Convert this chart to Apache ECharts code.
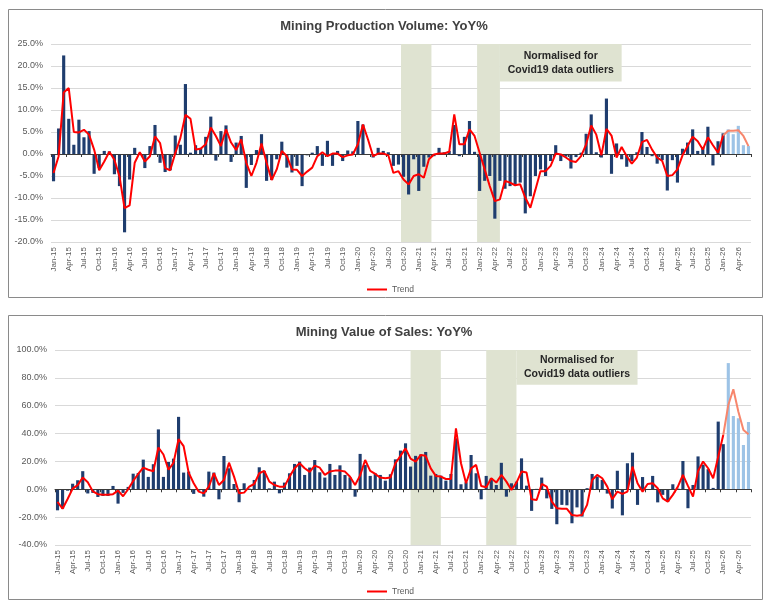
<!DOCTYPE html>
<html>
<head>
<meta charset="utf-8">
<title>Mining YoY%</title>
<script src="https://cdn.jsdelivr.net/npm/echarts@6.0.0/dist/echarts.min.js"></script>
<style>
  html, body { margin: 0; padding: 0; background: #fff; }
  #chart { width: 768px; height: 604px; }
</style>
</head>
<body>
<div id="chart"></div>
<script>
// month labels Jan-15 .. Jun-26
const MONTHS = ['Jan', 'Feb', 'Mar', 'Apr', 'May', 'Jun', 'Jul', 'Aug', 'Sep', 'Oct', 'Nov', 'Dec']
const YEARS = ['15', '16', '17', '18', '19', '20', '21', '22', '23', '24', '25', '26']
const categories = []
YEARS.forEach(y => MONTHS.forEach(m => categories.push(m + '-' + y)))
categories.length = 138

const FORECAST_FROM = 'Feb-26' // lighter bars from here
const TREND_SPLIT = 'Jan-26' // trend turns salmon from here

// Mining Production Volume: YoY%
const volBars = [
  -6.2, 5.8, 22.4, 8.0, 2.1, 7.8, 3.8, 5.2, -4.5, -3.2, 0.7, 0.6,
  -4.6, -7.3, -17.8, -5.8, 1.4, 0.2, -3.2, 1.8, 6.6, -2.0, -4.1, -3.7,
  4.2, 2.1, 15.9, 0.3, 2.0, 1.4, 3.9, 8.5, -1.5, 5.2, 6.5, -1.8,
  2.6, 4.1, -7.7, -2.5, 0.9, 4.5, -6.1, -5.9, -1.2, 2.8, -3.1, -4.2,
  -2.7, -7.3, -0.3, 0.3, 1.8, -2.7, 3.0, -2.7, 0.7, -1.6, 0.8, 0.6,
  7.5, 6.7, -0.2, -0.8, 1.4, 0.7, 0.4, -2.7, -2.4, -5.2, -9.2, -1.2,
  -8.4, -2.9, -0.8, -0.5, 1.4, 0.4, 0.7, 6.6, -0.5, 3.9, 7.5, 0.5,
  -8.4, -6.1, -5.0, -14.7, -6.1, -7.9, -7.3, -7.1, -6.5, -13.5, -9.6, -5.0,
  -3.5, -5.0, -1.6, 2.0, -1.6, -0.6, -3.3, -0.7, 0.3, 4.6, 9.0, 0.4,
  -0.8, 12.6, -4.5, 2.4, -1.2, -2.9, -1.6, 0.4, 5.0, 1.6, -0.5, -2.2,
  -1.4, -8.3, -1.4, -6.5, 1.2, 2.6, 5.6, 0.7, 1.6, 6.2, -2.6, 2.9,
  4.7, 5.6, 4.5, 6.4, 2.0, 1.8
]
const volTrend = [
  -4.3, -0.5, 14.0, 15.0, 5.0, 4.9, 5.5, 4.4, 1.0, -3.7, -1.7, 0.5,
  -1.3, -5.1, -12.3, -11.7, -2.0, 0.4, -1.7, -0.5, 4.0, 2.5, -3.2, -3.7,
  0.2, 3.6, 8.9, 8.0, 1.0, 1.2, 2.2, 6.0, 4.1, 1.8, 5.6, 2.6,
  0.9, 3.3, -2.0, -5.0, -2.0, 2.4, -2.0, -5.9, -3.5, 0.7, -0.5, -3.5,
  -3.6, -5.0, -4.0, -3.1, -0.5, 0.4, -0.5, 0.1, 0.1, -0.7, -0.3, -0.1,
  2.2, 6.7, 3.3, -0.5, 0.1, 0.1, -0.3, -4.3, -3.9, -5.8, -6.9, -5.0,
  -4.6, -5.4, -1.2, -0.1, 0.1, 0.1, 0.5, 9.0, 2.2, 2.2, 5.6, 4.1,
  0.3, -3.5, -7.3, -10.7, -10.3, -6.1, -6.5, -7.1, -6.9, -9.9, -12.2, -8.1,
  -3.9, -3.9, -2.7, 0.1, -0.1, -0.8, -1.6, -1.8, -0.5, 2.2, 6.5, 4.4,
  -0.3, 5.7, 4.2, -0.8, 1.6, -0.5, -2.2, -0.8, 2.7, 3.2, 1.0, -0.8,
  -1.6, -5.0, -4.8, -3.5, -0.3, 1.8, 3.9, 2.9, 1.0, 3.8, 2.0, 0.3,
  4.2, 5.3, 5.3, 5.4, 4.1, 1.8
]

// Mining Value of Sales: YoY%
const salesBars = [
  -15.1, -13.9, -1.0, 4.0, 6.5, 13.0, -3.0, -2.6, -5.5, -4.8, -4.8, 2.4,
  -10.3, -2.6, 1.7, 11.2, 11.7, 21.3, 8.9, 18.0, 43.0, 8.9, 19.6, 22.0,
  52.0, 12.0, 12.7, -3.3, -1.0, -5.3, 12.7, 12.0, -7.2, 23.9, 15.1, 3.8,
  -9.3, 4.3, 0.5, 6.7, 15.8, 13.2, 0.7, 5.5, -2.9, 4.8, 11.5, 18.2,
  19.9, 10.3, 15.6, 21.0, 12.2, 8.4, 18.2, 10.3, 17.2, 10.3, 8.6, -5.3,
  25.4, 17.5, 9.6, 11.5, 10.3, 6.2, 10.8, 21.5, 27.8, 33.0, 16.3, 24.0,
  25.0, 26.8, 9.8, 11.0, 9.8, 6.2, 11.0, 36.6, 3.6, 5.0, 24.6, 11.5,
  -7.2, 9.6, 7.9, 3.1, 19.0, -5.3, 4.3, 5.5, 22.2, 2.6, -15.5, 0.3,
  8.4, -6.5, -14.1, -25.1, -11.2, -11.5, -24.4, -13.0, -19.6, 0.8, 11.0, 9.1,
  6.7, -3.1, -13.8, 13.3, -18.7, 18.7, 26.3, -11.2, 8.8, -0.5, 9.6, -9.4,
  -4.0, -9.0, 3.6, 0.5, 20.3, -13.6, 3.1, 23.6, 17.7, 14.4, 1.0, 48.6,
  32.4, 90.6, 52.6, 51.0, 31.8, 48.3
]
const salesTrend = [
  -9, -14, -7, 0.5, 3, 8.5, 5, -1.5, -3.5, -4, -4, -3.5,
  -1, -5, 0, 6, 11, 15.5, 14, 13, 30, 25, 14, 19,
  36, 31, 12, 4.3, -1.7, -2.9, 1.9, 11.5, 3.1, 6.7, 19.1, 9.1,
  -2.9, -2.4, 1.9, 3.8, 11.5, 13.2, 5.5, 3.1, 1.9, 1.9, 9.1, 15.1,
  18.7, 15.1, 12.5, 17, 15.5, 10.3, 12.7, 13.4, 13.4, 12.7, 9, 3.1,
  10, 21, 13.2, 11, 8.4, 7.9, 8.4, 18.7, 24, 29.4, 22, 19.9,
  24.6, 24, 15, 9.6, 9.1, 7.4, 7.4, 43.8, 18.7, 4.3, 15, 17.5,
  2.4, 1.4, 7.9, 4.8, 10.3, 5.5, -0.5, 4.8, 12.7, 12, -7.2, -7.7,
  3.8, 1.9, -8.9, -13.6, -14, -14, -18.5, -19, -18.4, -11.2, 6.7, 10.3,
  7.9, 1.9, -7.2, -1.7, -3.3, -1.7, 16.3, 4.3, -1.7, 3.8, 4.3, 0.7,
  -6.5, -8.9, -4, 1.9, 10.3, 2.4, -5.3, 13.2, 19.9, 15.1, 7.9, 23.4,
  39, 60.5, 71.8, 55.7, 42.6, 39.5
]

// shaded covid periods and the note box, per chart
const volShade = [['Oct-20', 'Mar-21'], ['Jan-22', 'Apr-22']]
const volNote = { from: 'May-22', to: 'May-24', low: 16.5, high: 25 }
const salesShade = [['Dec-20', 'May-21'], ['Feb-22', 'Jul-22']]
const salesNote = { from: 'Aug-22', to: 'Aug-24', low: 75, high: 100 }

const FONT = 'Liberation Sans'
const DARK = '#1f3d6e'
const LIGHT = '#9dc3e6'
const RED = '#ff0000'
const SALMON = '#f7866c'
const SHADE = '#dfe3d1'
const GREY = '#595959'

const fcIdx = categories.indexOf(FORECAST_FROM)
const splitIdx = categories.indexOf(TREND_SPLIT)

function barsOf(values) {
  return values.map((v, i) => ({
    value: v,
    itemStyle: { color: i >= fcIdx ? LIGHT : DARK }
  }))
}

function areaOf(shade, note) {
  const data = shade.map(s => [{ xAxis: s[0] }, { xAxis: s[1] }])
  data.push([
    {
      xAxis: note.from,
      yAxis: note.low,
      label: {
        show: true,
        position: 'inside',
        formatter: 'Normalised for\nCovid19 data outliers',
        fontFamily: FONT,
        fontWeight: 'bold',
        fontSize: 10.5,
        lineHeight: 14,
        color: '#262626'
      }
    },
    { xAxis: note.to, yAxis: note.high }
  ])
  return { silent: true, itemStyle: { color: SHADE }, label: { show: false }, data: data }
}

function xAxes(g) {
  return [{
    type: 'category',
    gridIndex: g,
    data: categories,
    position: 'bottom',
    axisLine: { show: false, onZero: false },
    axisTick: { show: false },
    axisLabel: {
      interval: 2,
      rotate: 90,
      margin: 5,
      fontSize: 8,
      fontFamily: FONT,
      color: GREY
    }
  }, {
    type: 'category',
    gridIndex: g,
    data: categories,
    position: 'bottom',
    z: 3,
    axisLine: { show: true, onZero: true, lineStyle: { color: '#3a3a3a', width: 1 } },
    axisTick: { show: true, interval: 2, length: 3, lineStyle: { color: '#3a3a3a' } },
    axisLabel: { show: false }
  }]
}

function yAxisOf(g, min, max, step) {
  return {
    type: 'value',
    gridIndex: g,
    min: min,
    max: max,
    interval: step,
    axisLine: { show: false },
    axisTick: { show: false },
    splitLine: { lineStyle: { color: '#d9d9d9', width: 1 } },
    axisLabel: {
      formatter: v => v.toFixed(1) + '%',
      fontSize: 9,
      fontFamily: FONT,
      color: GREY,
      margin: 8
    }
  }
}

function seriesOf(g, bars, trend, shade, note) {
  return [{
    type: 'bar',
    name: 'YoY',
    xAxisIndex: g * 2,
    yAxisIndex: g,
    barWidth: '62%',
    data: barsOf(bars),
    markArea: areaOf(shade, note)
  }, {
    type: 'line',
    name: 'Trend',
    xAxisIndex: g * 2,
    yAxisIndex: g,
    symbol: 'none',
    z: 4,
    lineStyle: { color: RED, width: 2 },
    itemStyle: { color: RED },
    data: trend.map((v, i) => (i <= splitIdx ? v : null))
  }, {
    type: 'line',
    name: 'Trend forecast',
    xAxisIndex: g * 2,
    yAxisIndex: g,
    symbol: 'none',
    z: 4,
    lineStyle: { color: SALMON, width: 2 },
    itemStyle: { color: SALMON },
    data: trend.map((v, i) => (i >= splitIdx ? v : null))
  }]
}

const legendBase = {
  data: ['Trend'],
  icon: 'rect',
  itemWidth: 20,
  itemHeight: 2,
  left: 362,
  textStyle: { fontSize: 8.5, fontFamily: FONT, color: GREY }
}

const chart = echarts.init(document.getElementById('chart'))
chart.setOption({
  backgroundColor: '#fff',
  animation: false,
  title: [{
    text: 'Mining Production Volume: YoY%',
    left: 'center',
    top: 15,
    textStyle: { fontFamily: FONT, fontSize: 13, fontWeight: 'bold', color: '#404040' }
  }, {
    text: 'Mining Value of Sales: YoY%',
    left: 'center',
    top: 321,
    textStyle: { fontFamily: FONT, fontSize: 13, fontWeight: 'bold', color: '#404040' }
  }],
  legend: [
    Object.assign({}, legendBase, { top: 280 }),
    Object.assign({}, legendBase, { top: 582 })
  ],
  graphic: [{
    type: 'rect',
    silent: true,
    shape: { x: 8.5, y: 9.5, width: 754, height: 288 },
    style: { fill: 'none', stroke: '#8a8a8a', lineWidth: 1 }
  }, {
    type: 'rect',
    silent: true,
    shape: { x: 8.5, y: 315.5, width: 754, height: 284 },
    style: { fill: 'none', stroke: '#8a8a8a', lineWidth: 1 }
  }],
  grid: [
    { left: 51, top: 44, width: 700, height: 198 },
    { left: 55, top: 350, width: 696, height: 195 }
  ],
  xAxis: xAxes(0).concat(xAxes(1)),
  yAxis: [yAxisOf(0, -20, 25, 5), yAxisOf(1, -40, 100, 20)],
  series: seriesOf(0, volBars, volTrend, volShade, volNote)
    .concat(seriesOf(1, salesBars, salesTrend, salesShade, salesNote))
})
</script>
</body>
</html>
